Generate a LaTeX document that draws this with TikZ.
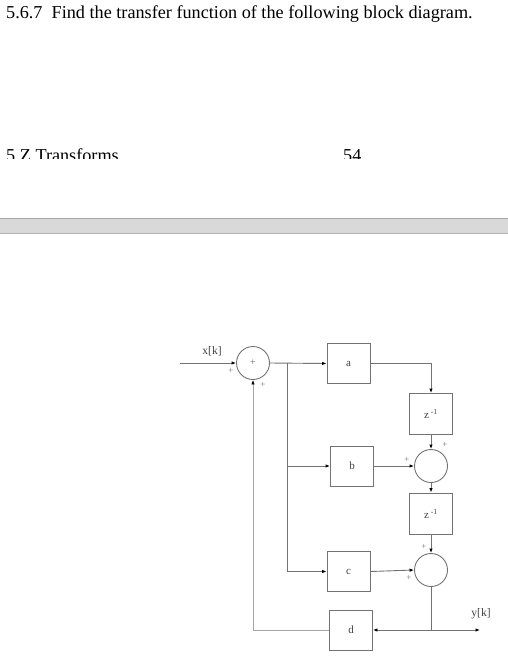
\documentclass[tikz,border=0pt]{standalone}
\usepackage{fontspec}
\setmainfont{Liberation Serif}
\usetikzlibrary{arrows.meta}
\begin{document}
\begin{tikzpicture}[x=1pt, y=-1pt,
    blk/.style={draw=black!55, line width=0.9pt, minimum width=43pt, minimum height=40pt,
        inner sep=0pt, font=\fontsize{11}{11}\selectfont, text=black!75},
    sumnode/.style={circle, draw=black!55, line width=0.9pt, minimum size=33pt, inner sep=0pt,
        font=\fontsize{10}{10}\selectfont, text=black!60},
    wire/.style={draw=black!55, line width=0.9pt},
    arr/.style={wire, -{Latex[length=4.5pt, width=3.5pt, black]}},
    sgn/.style={font=\fontsize{9}{9}\selectfont, text=black!55, inner sep=0pt},
    lbl/.style={font=\fontsize{11.5}{11.5}\selectfont, text=black!75, inner sep=0pt}]
    \useasboundingbox (0,0) rectangle (508,657);

    % page text
    \node [anchor=base west, inner sep=0pt, font=\fontsize{18.2}{18}\selectfont] (title) at (6,18.5)
        {5.6.7\ \ Find the transfer function of the following block diagram.};
    \begin{scope}
        \clip (0,140) rectangle (508,158);
        \node [anchor=base west, inner sep=0pt, font=\fontsize{18.2}{18}\selectfont] (chap) at (6,161.5) {5 Z Transforms};
        \node [anchor=base west, inner sep=0pt, font=\fontsize{18.2}{18}\selectfont] (page) at (343,161.5) {54};
    \end{scope}

    % gap between pages
    \fill [black!15] (0,218) rectangle (508,234);
    \draw [black!35, line width=1pt] (0,218.5) -- (508,218.5);
    \draw [black!30, line width=1pt] (0,233.5) -- (508,233.5);

    % first adder and input
    \node [sumnode] (s1) at (253,363) {+};
    \coordinate (xin) at (180,363);
    \node [lbl] (xlab) at (212,351) {x[k]};
    \draw [arr] (xin) -- (s1.west);
    \node [sgn] at (231,371) {+};
    \node [sgn] at (263,385) {+};

    % gains
    \node [blk] (a) at (348.5,363.5) {a};
    \node [blk] (b) at (352,466) {b};
    \node [blk] (c) at (348.5,571.5) {c};
    \node [blk] (d) at (351,630) {d};

    % delays and adders on the right
    \node [blk, minimum height=41pt] (za) at (431,414) {z\,\textsuperscript{-1}};
    \node [sumnode] (s2) at (431,466) {};
    \node [blk, minimum height=41pt] (zb) at (431,513.5) {z\,\textsuperscript{-1}};
    \node [sumnode] (s3) at (431,570) {};

    % branch points
    \coordinate (br1) at (287,363);
    \coordinate (br2) at (287,466);
    \coordinate (br3) at (287,571.5);

    \draw [arr] (s1.east) -- (a.west);
    \draw [wire] (br1) -- (br3);
    \draw [arr] (br2) -- (b.west);
    \draw [arr] (br3) -- (c.west);

    \draw [arr] (a.east) -| (za.north);
    \draw [arr] (za.south) -- (s2.north);
    \node [sgn] at (445,445) {+};
    \draw [arr] (b.east) -- (s2.west);
    \node [sgn] at (407,460) {+};
    \draw [arr] (s2.south) -- (zb.north);
    \draw [arr] (zb.south) -- (s3.north);
    \node [sgn] at (424,547) {+};
    \draw [arr] (c.east) -- (s3.west);
    \node [sgn] at (409,578) {+};

    % output and feedback
    \coordinate (tap) at (431,630);
    \coordinate (yout) at (480,630);
    \draw [wire] (s3.south) -- (tap);
    \draw [arr] (tap) -- (yout);
    \node [lbl] (ylab) at (481,614) {y[k]};
    \draw [arr] (tap) -- (d.east);
    \draw [arr, draw=black!35, line width=0.7pt] (d.west) -| (s1.south);

\end{tikzpicture}
\end{document}
